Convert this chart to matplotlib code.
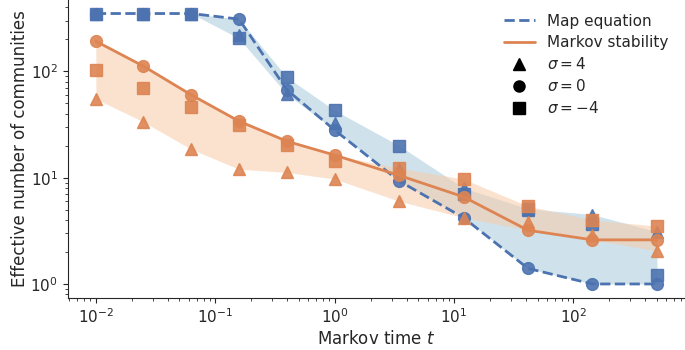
import numpy as np
import matplotlib
matplotlib.use("Agg")
import matplotlib.pyplot as plt
import seaborn as sns
from matplotlib.lines import Line2D

sns.set_style("ticks")
plt.rcParams["font.family"] = ["DejaVu Sans"]

t = [0.01, 0.025, 0.063, 0.158, 0.398, 1.0, 3.47, 12.0, 41.6, 144.0, 500.0]

map_s4 = [350, 350, 350, 220, 61, 33, 12, 8.0, 5.0, 4.5, 3.1]
map_s0 = [350, 350, 350, 310, 67, 28, 9.3, 4.2, 1.4, 1.0, 1.0]
map_sm4 = [350, 350, 350, 204, 88, 43, 20, 7.0, 5.1, 3.7, 1.22]

markov_s4 = [55, 33.5, 18.5, 12, 11.2, 9.7, 6.0, 4.2, 3.8, 2.9, 2.05]
markov_s0 = [192, 112, 60, 34, 22, 16.3, 10.5, 6.6, 3.2, 2.6, 2.6]
markov_sm4 = [102, 69, 46, 31, 20.5, 14.4, 12.3, 9.7, 5.4, 4.0, 3.5]

blue = "#4c72b0"
orange = "#dd8452"

fig, ax = plt.subplots(figsize=(6.85, 3.5), dpi=100)

for s4, s0, sm4, col, fill, ls in [
    (map_s4, map_s0, map_sm4, blue, "#a9cbdc", "--"),
    (markov_s4, markov_s0, markov_sm4, orange, "#f8cba8", "-"),
]:
    arr = np.array([s4, s0, sm4])
    ax.fill_between(t, arr.min(axis=0), arr.max(axis=0), color=fill, alpha=0.55, lw=0)
    ax.plot(t, s0, color=col, ls=ls, lw=2)
    ax.plot(t, s4, "^", color=col, ms=8.5, alpha=0.9, ls="none")
    ax.plot(t, s0, "o", color=col, ms=8.5, alpha=0.9, ls="none")
    ax.plot(t, sm4, "s", color=col, ms=8.5, alpha=0.9, ls="none")

ax.set_xscale("log")
ax.set_yscale("log")
ax.set_xlabel("Markov time $t$", fontsize=12, labelpad=3)
ax.set_ylabel("Effective number of communities", fontsize=12, labelpad=1)
ax.tick_params(labelsize=11)
sns.despine(ax=ax)

handles = [
    Line2D([], [], color=blue, ls="--", lw=2),
    Line2D([], [], color=orange, ls="-", lw=2),
    Line2D([], [], color="black", marker="^", ls="none", ms=8),
    Line2D([], [], color="black", marker="o", ls="none", ms=8),
    Line2D([], [], color="black", marker="s", ls="none", ms=8),
]
labels = ["Map equation", "Markov stability", r"$\sigma = 4$", r"$\sigma = 0$", r"$\sigma = -4$"]
ax.legend(handles, labels, loc="upper right", frameon=False, fontsize=11,
          labelspacing=0.4, bbox_to_anchor=(0.995, 1.0))

fig.subplots_adjust(left=0.099, right=1.0, top=1.0, bottom=0.15)
fig.savefig("out.png")
